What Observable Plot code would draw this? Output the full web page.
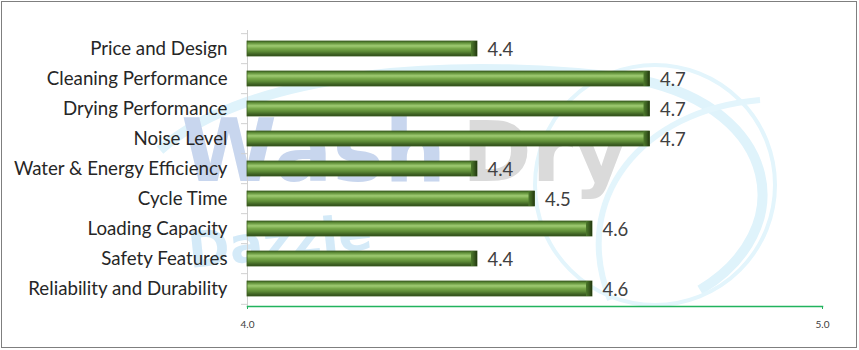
<!DOCTYPE html>
<html>
<head>
<meta charset="utf-8">
<script src="https://cdn.jsdelivr.net/npm/d3@7"></script>
<script src="https://cdn.jsdelivr.net/npm/@observablehq/plot@0.6"></script>
<style>
  html, body { margin: 0; padding: 0; background: #fff; }
  #chart { width: 859px; height: 350px; }
</style>
</head>
<body>
<div id="chart"></div>
<script>
const categories = [
  "Price and Design",
  "Cleaning Performance",
  "Drying Performance",
  "Noise Level",
  "Water & Energy Efficiency",
  "Cycle Time",
  "Loading Capacity",
  "Safety Features",
  "Reliability and Durability"
];
const ratings = [4.4, 4.7, 4.7, 4.7, 4.4, 4.5, 4.6, 4.4, 4.6];
const xTicks = [4.0, 5.0];
const xDomain = [4.0, 5.0];

const data = categories.map((c, i) => ({category: c, rating: ratings[i]}));

const W = 859, H = 350;
const mTop = 30, mBottom = 44, mLeft = 247, mRight = 37;
const step = (H - mTop - mBottom) / categories.length;

const chart = Plot.plot({
  width: W,
  height: H,
  marginTop: mTop,
  marginBottom: mBottom,
  marginLeft: mLeft,
  marginRight: mRight,
  style: {fontFamily: "Lato, 'Open Sans', sans-serif", background: "transparent", overflow: "visible"},
  x: {domain: xDomain},
  y: {domain: categories, padding: 0.5, paddingOuter: 0.25},
  marks: [
    Plot.frame({anchor: "left", stroke: "#d0d0d0", strokeWidth: 1}),
    Plot.ruleY(categories, {y: d => d, x1: xDomain[0], x2: xDomain[0], insetLeft: -6, dy: -step / 2, stroke: "#d0d0d0"}),
    Plot.ruleY(categories.slice(-1), {y: d => d, x1: xDomain[0], x2: xDomain[0], insetLeft: -6, dy: step / 2, stroke: "#d0d0d0"}),
    Plot.barX(data, {
      y: "category",
      x1: xDomain[0],
      x2: "rating",
      fill: "url(#barGrad)",
      stroke: "#3e5f22",
      strokeWidth: 0.8
    }),
    Plot.barX(data, {
      y: "category",
      x1: d => d.rating - 6 / 575,
      x2: "rating",
      fill: "url(#endGrad)"
    }),
    Plot.text(data, {
      y: "category",
      x: "rating",
      text: d => d.rating.toFixed(1),
      textAnchor: "start",
      dx: 10,
      dy: 1,
      fontSize: 18.5,
      fill: "#404040"
    }),
    Plot.frame({anchor: "bottom", stroke: "#22b35e", strokeWidth: 1.5}),
    Plot.axisX({
      ticks: xTicks,
      tickFormat: d3.format(".1f"),
      tickSize: 3,
      tickPadding: 11,
      stroke: "#22b35e",
      fontSize: 10,
      color: "#404040",
      label: null
    }),
    Plot.axisY({
      tickSize: 0,
      tickPadding: 20,
      fontSize: 18.7,
      color: "#262626",
      label: null
    })
  ]
});

// gradients and background decoration
const svg = d3.select(chart);
svg.style("color", "#404040");
svg.selectAll("g[aria-label='x-axis tick label'] text").attr("fill", "#404040");
const defs = svg.insert("defs", ":first-child");
const g1 = defs.append("linearGradient").attr("id", "barGrad")
  .attr("x1", 0).attr("y1", 0).attr("x2", 0).attr("y2", 1);
[[0, "#3f6124"], [0.12, "#5f8f38"], [0.32, "#9fcb72"], [0.5, "#78a84a"], [0.7, "#5c8a36"], [0.88, "#3f6324"], [1, "#2e4a18"]]
  .forEach(([o, c]) => g1.append("stop").attr("offset", o).attr("stop-color", c));
const g2 = defs.append("linearGradient").attr("id", "endGrad")
  .attr("x1", 0).attr("y1", 0).attr("x2", 1).attr("y2", 0);
[[0, "#4d7a2c"], [0.5, "#3b5e20"], [1, "#22380f"]]
  .forEach(([o, c]) => g2.append("stop").attr("offset", o).attr("stop-color", c));

// watermark background (decorative)
const bg = svg.insert("g", "defs + *").attr("aria-label", "watermark").attr("text-anchor", "start");
bg.append("rect").attr("x", 1.5).attr("y", 1.5).attr("width", W - 4).attr("height", H - 4)
  .attr("fill", "#fff").attr("stroke", "#7f7f7f").attr("stroke-width", 1);
bg.append("path").attr("d", "M 160 150 C 250 70, 460 55, 640 80 C 780 110, 800 230, 700 290")
  .attr("fill", "none").attr("stroke", "#dff3fb").attr("stroke-width", 10);
bg.append("path").attr("d", "M 610 300 C 570 200, 640 110, 760 100")
  .attr("fill", "none").attr("stroke", "#e3f5fc").attr("stroke-width", 6);
bg.append("ellipse").attr("cx", 655).attr("cy", 185).attr("rx", 120).attr("ry", 120)
  .attr("fill", "none").attr("stroke", "#e3f5fc").attr("stroke-width", 4);
const wmFont = "'DejaVu Sans', Verdana, sans-serif";
bg.append("text").attr("x", 181).attr("y", 181).text("Wash")
  .attr("font-family", wmFont).attr("font-weight", "bold")
  .attr("font-size", 87).attr("fill", "#c8d6ee");
bg.append("text").attr("x", 462).attr("y", 181).text("Dry")
  .attr("font-family", wmFont).attr("font-weight", "bold")
  .attr("font-size", 84).attr("fill", "#dadada");
bg.append("text").attr("x", 190).attr("y", 268).text("Dazzle")
  .attr("font-family", wmFont).attr("font-weight", "bold")
  .attr("font-size", 50).attr("fill", "#d4eaf8")
  .attr("transform", "rotate(-6 190 268)");

document.getElementById("chart").appendChild(chart);
</script>
</body>
</html>
